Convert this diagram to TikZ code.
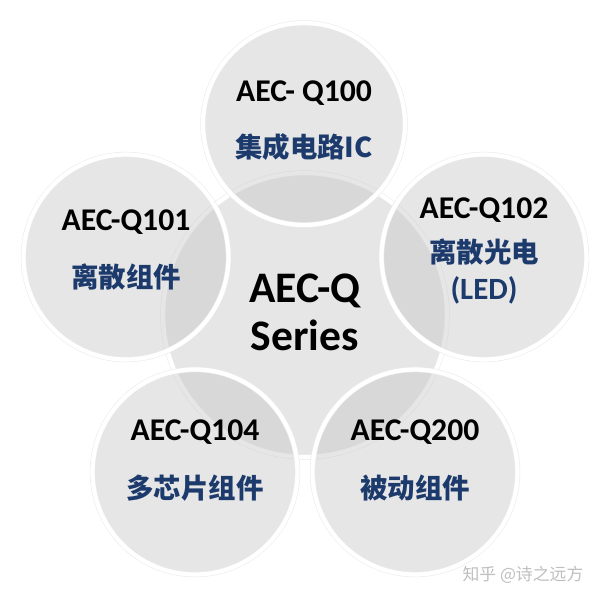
\documentclass[tikz,border=0pt]{standalone}
\usepackage{fontspec}
\setmainfont{Carlito}
\newfontfamily\cjk{Noto Sans CJK SC}
\usepackage{tikz}
\definecolor{navy}{RGB}{28,58,108}
\definecolor{ballgray}{RGB}{200,200,200}

\begin{document}
\begin{tikzpicture}[x=0.025cm,y=-0.025cm]
	\tikzstyle{every node}+=[inner sep=0pt]
	\tikzstyle{ball}=[circle,fill=ballgray,fill opacity=0.45,draw=black!8,double=white,double distance=3pt,line width=0.4pt]
	\tikzstyle{code}=[font=\fontsize{22.5}{27}\selectfont\bfseries,text=black]
	\tikzstyle{cn}=[font=\fontsize{19.5}{22}\selectfont\cjk\bfseries,text=navy]
	\useasboundingbox (0,0) rectangle (600,600);
	\fill [white] (0,0) rectangle (600,600);
	% circles
	\node [ball,minimum size=284*0.025cm] (series) at (305,315) {};
	\node [ball,minimum size=202*0.025cm] (q100) at (304,124) {};
	\node [ball,minimum size=205*0.025cm] (q101) at (126,257) {};
	\node [ball,minimum size=205*0.025cm] (q102) at (484,257) {};
	\node [ball,minimum size=205*0.025cm] (q104) at (195,472) {};
	\node [ball,minimum size=205*0.025cm] (q200) at (415,472) {};
	% texts
	\node [font=\fontsize{31}{32}\selectfont\bfseries,align=center] (seriest) at (305,312) {AEC-Q\\[2pt]Series};
	\node [code] (q100t) at (q100.center) [yshift=31*0.025cm] {AEC- Q100};
	\node [cn] (q100c) at (q100.center) [yshift=-23*0.025cm] {集成电路IC};
	\node [code] (q101t) at (q101.center) [yshift=35*0.025cm] {AEC-Q101};
	\node [cn] (q101c) at (q101.center) [yshift=-20*0.025cm] {离散组件};
	\node [code] (q102t) at (q102.center) [yshift=47*0.025cm] {AEC-Q102};
	\node [cn] (q102c) at (q102.center) [yshift=5*0.025cm] {离散光电};
	\node [font=\fontsize{22}{26}\selectfont\bfseries,text=navy] (q102l) at (q102.center) [yshift=-33*0.025cm] {(LED)};
	\node [code] (q104t) at (q104.center) [yshift=40*0.025cm] {AEC-Q104};
	\node [cn] (q104c) at (q104.center) [yshift=-16*0.025cm] {多芯片组件};
	\node [code] (q200t) at (q200.center) [yshift=40*0.025cm] {AEC-Q200};
	\node [cn] (q200c) at (q200.center) [yshift=-16*0.025cm] {被动组件};
	\node [font=\fontsize{12}{14}\selectfont\cjk,text=black!25] (zhihu) at (523,575) {知乎 @诗之远方};
\end{tikzpicture}
\end{document}
